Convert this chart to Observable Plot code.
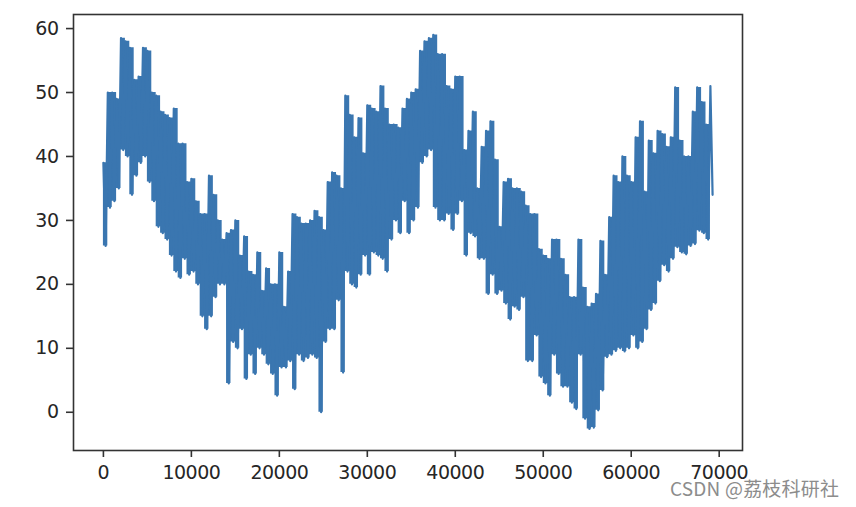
<!DOCTYPE html>
<html>
<head>
<meta charset="utf-8">
<script src="https://cdn.jsdelivr.net/npm/d3@7"></script>
<script src="https://cdn.jsdelivr.net/npm/@observablehq/plot@0.6"></script>
<style>
  html, body { margin: 0; padding: 0; background: #fff; }
  #wrap { position: relative; width: 856px; height: 507px; }
  #mark { position: absolute; left: 670px; top: 478px; font-family: "Noto Sans CJK SC", "Noto Sans", sans-serif; font-size: 19px; color: #8c8c8c; white-space: nowrap; line-height: 1; letter-spacing: 0.2px; }
</style>
</head>
<body>
<div id="wrap"><div id="mark">CSDN @荔枝科研社</div></div>
<script>
// sample step along the index axis
const step = 500;
// upper envelope (local maxima) read per 500-sample bin
const hi = [39,50,50,49,58.5,58,57,52,52.5,57,56.5,50,49.5,47,46.5,46,47.5,42,42,36,36.5,33,31,31,37,34,30,27,28,28.5,30,24.5,27.5,22,21.5,25,19,22.5,20,20,25,16.5,22,31,30.5,29.5,29.5,30,31.5,30.5,28.5,36,37.5,37,35,49.5,46.5,43,46,40.5,48,47.5,47,51,47.5,45,45,44.5,47.5,49,50,50.5,56.5,58,58.5,59,56,56,51,50.5,52.5,52.5,41,44,47,35,41.5,44,45.5,39.5,29,36,36.5,35,35,34.5,32.3,31,31,25.5,24.5,24,27,27,24,21.5,18,18,27,19.5,16.5,17,18.5,26.8,21.5,30.5,37,36,40,37,36,43,45.5,34.5,42.5,40.5,44,43.5,41.5,43,50.8,42.5,40,40,47,50.8,48.5,45,51];
// lower envelope (local minima) read per bin
const lo = [26,32,33,35,41,40,34,37,39,40,36,33,29,28,27,24.5,22,21,24,21.5,22,20,15,13,15,18,20,20,4.5,11,10,13,5.2,9,6,10,9,7.5,6,2.6,7,7,8,3.6,9,8,8.5,9,8.5,0,11,13,13,17.5,6.2,22,20,19.5,21.5,24.5,21.5,25,24.5,24,22,27,30,28,33,28,30,32,39,40,41,32,30,30,31,28.5,31,33,24.5,28,27.5,24,24,18.5,21.5,18.5,19,17,14.5,16.5,16,18,8,8,12,5.5,4.5,2.6,9,6,4,4,1.5,0.5,9,-1,-2.6,-2.4,0.3,3.4,8.6,9,9.6,10,9.5,10,12,10,11,13,16,17,20.5,23,22,24,25.8,25,24.7,26,26.3,28.4,28,27,34];
const xTicks = [0,10000,20000,30000,40000,50000,60000,70000];
const yTicks = [0,10,20,30,40,50,60];

const bins = hi.map((h, i) => ({x: i * step, hi: h, lo: lo[i]}));
const zig = bins.flatMap(d => [{x: d.x, y: d.hi}, {x: d.x + step / 2, y: d.lo}]);
const blue = "#3a76b0";

const chart = Plot.plot({
  width: 856,
  height: 507,
  marginLeft: 73,
  marginRight: 114,
  marginTop: 14,
  marginBottom: 57,
  style: {fontFamily: "DejaVu Sans", fontSize: "19px", color: "#262626", letterSpacing: "-0.5px", background: "#fff"},
  x: {domain: [-3400, 72650], label: null},
  y: {domain: [-5.98, 62.2], label: null},
  marks: [
    Plot.areaY(bins, {x: "x", y1: "lo", y2: "hi", curve: "step-after", fill: blue}),
    Plot.line(zig, {x: "x", y: "y", stroke: blue, strokeWidth: 2.2, strokeLinejoin: "round"}),
    Plot.frame({stroke: "#333", strokeWidth: 1.6}),
    Plot.axisX({ticks: xTicks, tickFormat: d3.format("d"), tickSize: 7, tickPadding: 8, strokeWidth: 1.6, stroke: "#333", label: null}),
    Plot.axisY({ticks: yTicks, tickFormat: d3.format("d"), tickSize: 7, tickPadding: 8, strokeWidth: 1.6, stroke: "#333", label: null})
  ]
});
document.getElementById("wrap").prepend(chart);
</script>
</body>
</html>
